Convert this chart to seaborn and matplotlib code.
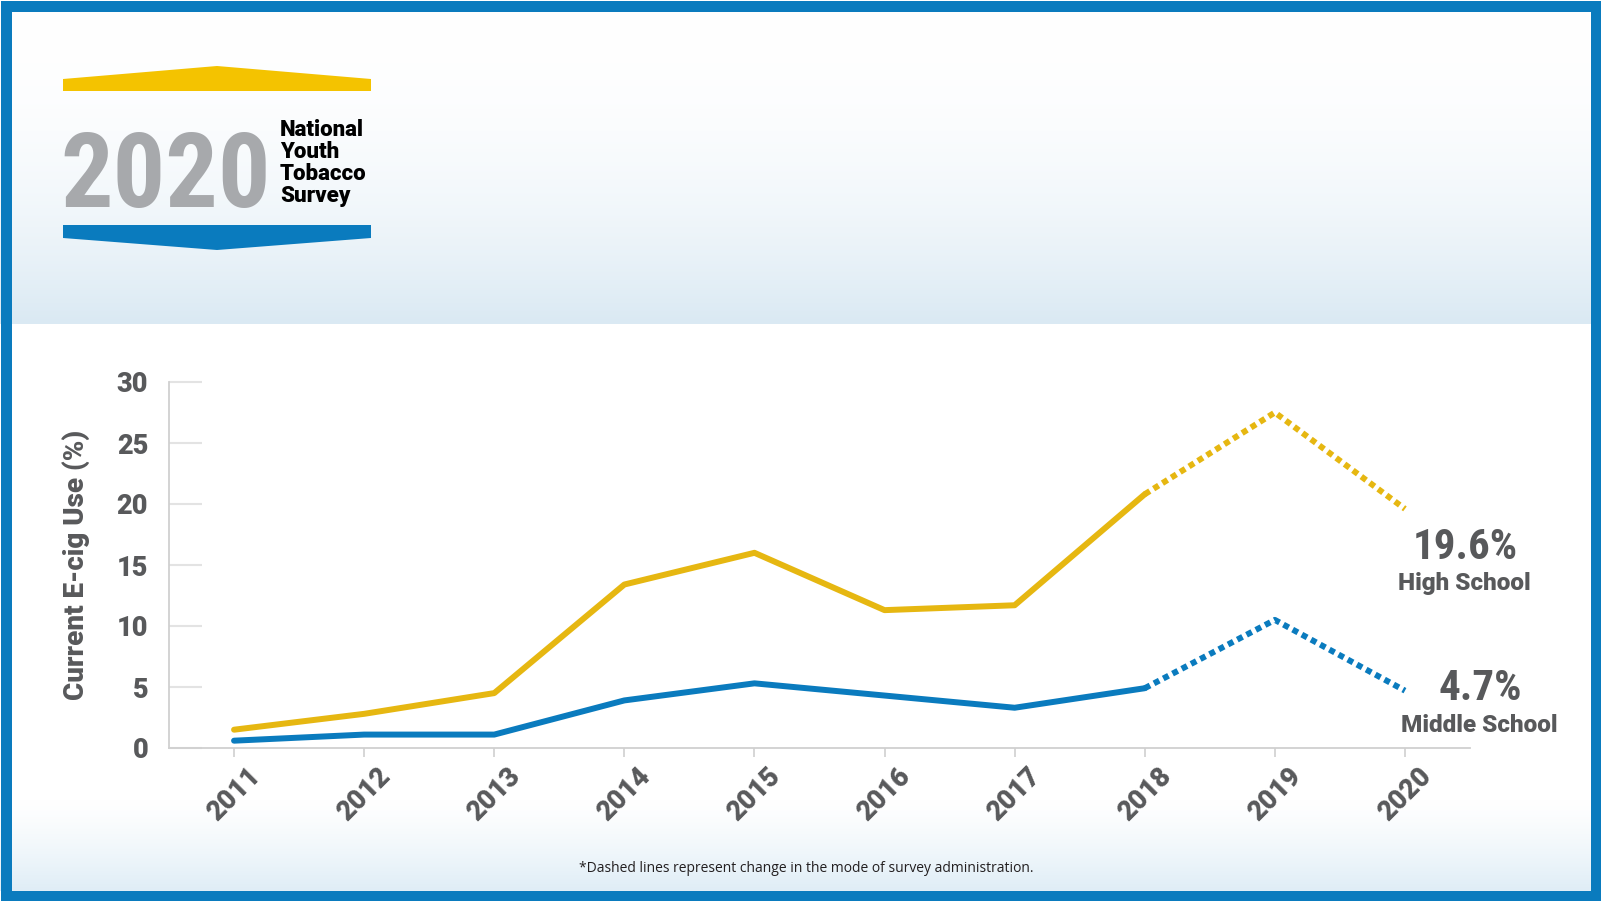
import numpy as np
import pandas as pd
import seaborn as sns
import matplotlib.pyplot as plt
from matplotlib import font_manager
from matplotlib.patches import Polygon, Rectangle

# data
years = [2011, 2012, 2013, 2014, 2015, 2016, 2017, 2018, 2019, 2020]
high_school = [1.5, 2.8, 4.5, 13.4, 16.0, 11.3, 11.7, 20.8, 27.5, 19.6]
middle_school = [0.6, 1.1, 1.1, 3.9, 5.3, 4.3, 3.3, 4.9, 10.5, 4.7]
mode_change = 2018  # survey mode changed after this year -> dotted
y_ticks = [0, 5, 10, 15, 20, 25, 30]
y_label = "Current E-cig Use (%)"
footnote = "*Dashed lines represent change in the mode of survey administration."
logo_year = "2020"
logo_text = "National\nYouth\nTobacco\nSurvey"

YELLOW = "#E6B711"
BLUE = "#0A7BBE"
LOGO_YELLOW = "#F4C300"
LOGO_GRAY = "#A7A9AC"
GRAY = "#58595B"
AXIS_GRAY = "#D0D0D0"

sns.set_theme(style="white")
available = {f.name for f in font_manager.fontManager.ttflist}


def pick(*names):
    for n in names:
        if n in available:
            return n
    return "DejaVu Sans"


bold_font = pick("Roboto", "Lato")
narrow_font = pick("Roboto Condensed", "Liberation Sans Narrow", "Roboto")
body_font = pick("Open Sans", "Lato")
plt.rcParams["font.family"] = [bold_font, "DejaVu Sans"]

W, H = 1601, 901
fig = plt.figure(figsize=(W / 100, H / 100), dpi=100)

# background layer in pixel coordinates
bg = fig.add_axes([0, 0, 1, 1])
bg.set_xlim(0, W)
bg.set_ylim(H, 0)
bg.axis("off")

white = np.array([1.0, 1.0, 1.0])
top_blue = np.array([0.855, 0.914, 0.953])
t = np.linspace(0, 1, 256) ** 2.2
grad = white + (top_blue - white) * t[:, None]
bg.imshow(grad[:, None, :], extent=(0, W, 324, 0), aspect="auto", origin="upper")
bot_blue = np.array([0.875, 0.93, 0.965])
t2 = np.linspace(0, 1, 256) ** 1.3
grad2 = white + (bot_blue - white) * t2[:, None]
bg.imshow(grad2[:, None, :], extent=(0, W, 891, 800), aspect="auto", origin="upper")
bg.set_xlim(0, W)
bg.set_ylim(H, 0)

# border
bg.add_patch(Rectangle((5.5, 5.5), W - 11, H - 11, fill=False, ec=BLUE, lw=11 * 0.72))

# logo
bg.add_patch(Polygon([(63, 91), (63, 79), (217, 66), (371, 79), (371, 91)], closed=True,
                     fc=LOGO_YELLOW, ec="none"))
bg.add_patch(Polygon([(63, 225), (371, 225), (371, 238), (217, 250), (63, 238)], closed=True,
                     fc=BLUE, ec="none"))
bg.text(60, 207, logo_year, family=[narrow_font, "DejaVu Sans"], fontsize=75, weight="bold",
        color=LOGO_GRAY, ha="left", va="baseline")
bg.text(280, 119, logo_text, fontsize=16, weight="black", color="black", ha="left", va="top",
        linespacing=1.0)

# main chart
ax = fig.add_axes([169 / W, 1 - 748 / H, (1470 - 169) / W, (748 - 382) / H])
ax.set_facecolor("none")

df = pd.DataFrame({"year": years, "High School": high_school, "Middle School": middle_school})
long = df.melt(id_vars="year", var_name="school", value_name="pct")
palette = {"High School": YELLOW, "Middle School": BLUE}

sns.lineplot(data=long[long["year"] <= mode_change], x="year", y="pct", hue="school",
             palette=palette, lw=4.3, legend=False, ax=ax)
sns.lineplot(data=long[long["year"] >= mode_change], x="year", y="pct", hue="school",
             palette=palette, lw=4.3, legend=False, ax=ax,
             linestyle=(0, (1.0, 0.75)), dash_capstyle="butt")

ax.set_xlim(2010.5, 2020.5)
ax.set_ylim(0, 30)
ax.set_xticks(years)
ax.set_yticks(y_ticks)
ax.set_xticklabels([str(y) for y in years], rotation=45, ha="center", va="top")
ax.set_xlabel("")
ax.set_ylabel(y_label, fontsize=20, weight="black", color=GRAY, va="center")
ax.yaxis.set_label_coords(-(169 - 76) / 1301, 0.5)

for lab in ax.get_xticklabels() + ax.get_yticklabels():
    lab.set_fontsize(19.5)
    lab.set_fontweight("black")
    lab.set_color(GRAY)

ax.tick_params(axis="y", direction="in", length=24, width=1.5, color="#E3E3E3", pad=15, left=True)
ax.tick_params(axis="x", direction="out", length=6.5, width=1.2, color=AXIS_GRAY, pad=4, bottom=True)
for side in ["top", "right"]:
    ax.spines[side].set_visible(False)
for side in ["left", "bottom"]:
    ax.spines[side].set_color(AXIS_GRAY)
    ax.spines[side].set_linewidth(1.3)

# end labels
end = {"High School": (high_school[-1], (60, -39), (59, -75)),
       "Middle School": (middle_school[-1], (75, 2), (74, -35))}
for name, (val, off_num, off_name) in end.items():
    ax.annotate(f"{val}%", xy=(years[-1], val), xytext=off_num, textcoords="offset pixels",
                ha="center", va="center", fontsize=31, color=GRAY,
                family=[narrow_font, "DejaVu Sans"], weight="bold")
    ax.annotate(name, xy=(years[-1], val), xytext=off_name, textcoords="offset pixels",
                ha="center", va="center", fontsize=17.5, color=GRAY, weight="black")

fig.text(806 / W, 1 - 868 / H, footnote, ha="center", va="center", fontsize=10,
         color="#231F20", family=[body_font, "DejaVu Sans"])

fig.savefig("out.png", dpi=100)
